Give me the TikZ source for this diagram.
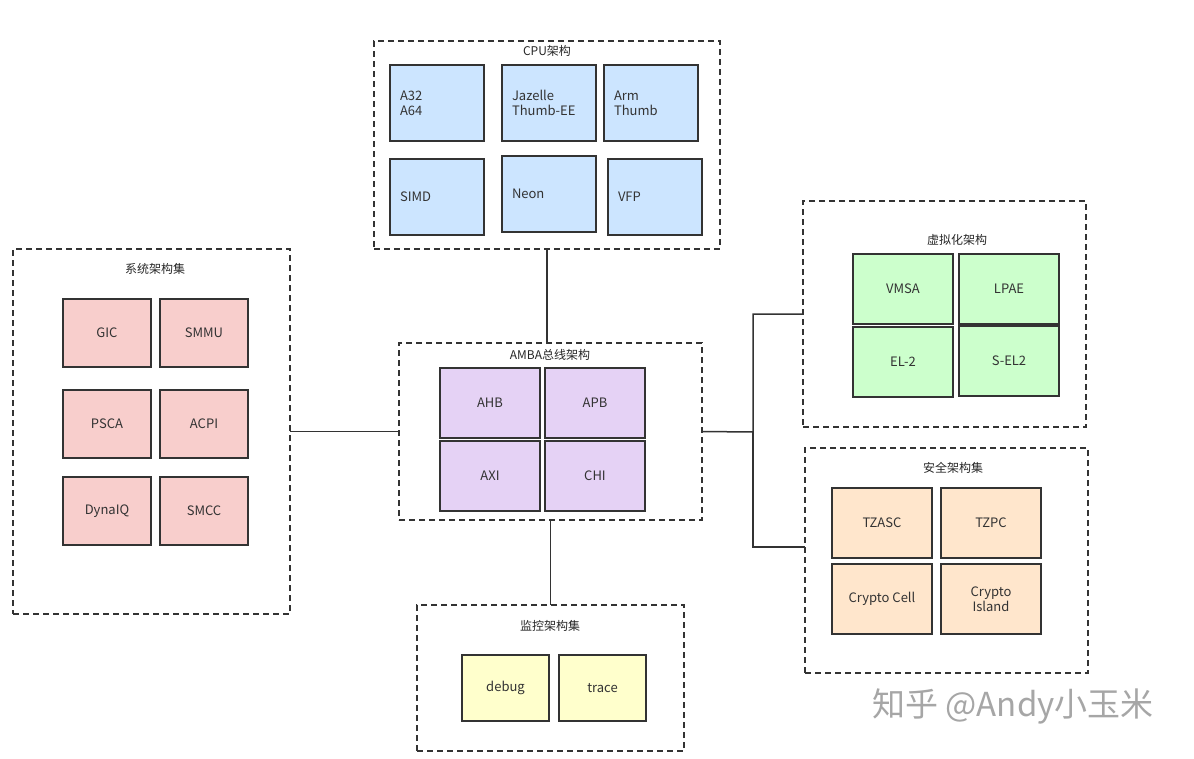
\documentclass[tikz,border=0pt]{standalone}
\usepackage{fontspec}
\setmainfont{Noto Sans CJK SC}
\begin{document}
\begin{tikzpicture}[x=1pt,y=-1pt,
  box/.style={draw=black!80,line width=1.3pt,inner sep=0pt,outer sep=0pt,align=center,font=\fontsize{13}{15}\selectfont,text=black!80},
  grp/.style={draw=black!80,line width=1.3pt,dash pattern=on 6pt off 4pt,inner sep=0pt,outer sep=0pt},
  ttl/.style={font=\fontsize{12}{14}\selectfont,text=black!85},
  cpu/.style={box,text width=74pt,align=left},
  con/.style={draw=black!80,line width=1.5pt},
]
\definecolor{cblue}{HTML}{CCE5FF}
\definecolor{cpink}{HTML}{F8CECC}
\definecolor{cpurple}{HTML}{E5D2F5}
\definecolor{cgreen}{HTML}{CCFFCC}
\definecolor{corange}{HTML}{FFE6CC}
\definecolor{cyellow}{HTML}{FFFFCC}
\newcommand\mybox[7]{\node[#6,minimum width=#4pt-#2pt,minimum height=#5pt-#3pt] (#1) at ({(#2+#4)/2},{(#3+#5)/2}) {#7};}
\useasboundingbox (0,0) rectangle (1194,758);
% groups
\mybox{cpu}{374}{41}{720}{249}{grp}{}
\node[ttl] (cput) at (547,51) {CPU架构};
\mybox{sys}{13}{249}{290}{614}{grp}{}
\node[ttl] (syst) at (155,269) {系统架构集};
\mybox{amba}{399}{343}{702}{520}{grp}{}
\node[ttl] (ambat) at (550,355) {AMBA总线架构};
\mybox{mon}{417}{605}{684}{751}{grp}{}
\node[ttl] (mont) at (550,626) {监控架构集};
\mybox{virt}{803}{201}{1086}{427}{grp}{}
\node[ttl] (virtt) at (957,240) {虚拟化架构};
\mybox{sec}{805}{448}{1088}{673}{grp}{}
\node[ttl] (sect) at (953,468) {安全架构集};
% CPU
\mybox{a32}{390}{65}{484}{141}{cpu,fill=cblue}{A32\\A64}
\mybox{jaz}{502}{65}{596}{141}{cpu,fill=cblue}{Jazelle\\Thumb-EE}
\mybox{arm}{604}{65}{698}{141}{cpu,fill=cblue}{Arm\\Thumb}
\mybox{simd}{390}{159}{484}{235}{cpu,fill=cblue}{SIMD}
\mybox{neon}{502}{156}{596}{232}{cpu,fill=cblue}{Neon}
\mybox{vfp}{608}{159}{702}{235}{cpu,fill=cblue}{VFP}
% system
\mybox{gic}{63}{299}{151}{367}{box,fill=cpink}{GIC}
\mybox{smmu}{160}{299}{248}{367}{box,fill=cpink}{SMMU}
\mybox{psca}{63}{390}{151}{458}{box,fill=cpink}{PSCA}
\mybox{acpi}{160}{390}{248}{458}{box,fill=cpink}{ACPI}
\mybox{dyn}{63}{477}{151}{545}{box,fill=cpink}{DynaIQ}
\mybox{smcc}{160}{477}{248}{545}{box,fill=cpink}{SMCC}
% amba
\mybox{ahb}{440}{368}{540}{438}{box,fill=cpurple}{AHB}
\mybox{apb}{545}{368}{645}{438}{box,fill=cpurple}{APB}
\mybox{axi}{440}{441}{540}{511}{box,fill=cpurple}{AXI}
\mybox{chi}{545}{441}{645}{511}{box,fill=cpurple}{CHI}
% monitor
\mybox{dbg}{462}{655}{549}{721}{box,fill=cyellow}{debug}
\mybox{trc}{559}{655}{646}{721}{box,fill=cyellow}{trace}
% virt
\mybox{vmsa}{853}{254}{953}{324}{box,fill=cgreen}{VMSA}
\mybox{lpae}{959}{254}{1059}{324}{box,fill=cgreen}{LPAE}
\mybox{el2}{853}{327}{953}{397}{box,fill=cgreen}{EL-2}
\mybox{sel2}{959}{326}{1059}{396}{box,fill=cgreen}{S-EL2}
% security
\mybox{tzasc}{832}{488}{932}{558}{box,fill=corange}{TZASC}
\mybox{tzpc}{941}{488}{1041}{558}{box,fill=corange}{TZPC}
\mybox{cc}{832}{564}{932}{634}{box,fill=corange}{Crypto Cell}
\mybox{ci}{941}{564}{1041}{634}{box,fill=corange}{Crypto\\Island}
% connectors
\coordinate (j) at (753,432);
\draw[con] (cpu.south) -- (cpu.south |- amba.north);
\draw[con] (sys.east) -- (sys.east -| amba.west);
\draw[con] (amba.south) -- (mon.north);
\draw[con] (amba.east) -- (j) |- (virt.west |- 0,314);
\draw[con] (j) |- (sec.west |- 0,547);
% watermark
\node[font=\fontsize{33}{35}\selectfont,text=black!35] (wm) at (1013,706) {知乎 @Andy小玉米};
\end{tikzpicture}
\end{document}
